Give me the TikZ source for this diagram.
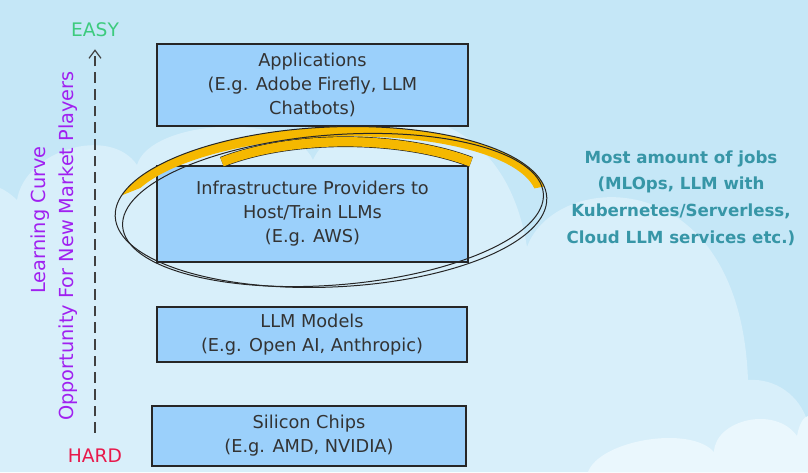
\documentclass[tikz,border=0pt]{standalone}
\usepackage{fontspec}
\setmainfont{DejaVu Sans}
\usetikzlibrary{arrows.meta}
\definecolor{skyblue}{HTML}{C5E7F7}
\definecolor{cloudblue}{HTML}{D8EFFA}
\definecolor{cloudpale}{HTML}{EAF7FD}
\definecolor{boxblue}{HTML}{9BD0FB}
\definecolor{boxtext}{HTML}{333333}
\definecolor{easygreen}{HTML}{3DCB7E}
\definecolor{hardred}{HTML}{E8194B}
\definecolor{curvepurple}{HTML}{A020F0}
\definecolor{jobteal}{HTML}{3796A7}
\definecolor{markyellow}{HTML}{F5B800}
\tikzset{
  layerbox/.style={draw=black!85, line width=0.9pt, fill=boxblue, text=boxtext,
    align=center, inner sep=0pt, font=\fontsize{13.3}{18}\selectfont},
  ringline/.style={draw=black!85, line width=0.75pt},
  marker/.style={draw=black!85, line width=0.5pt, double=markyellow, double distance=7pt},
  climb/.style={draw=black!75, line width=0.9pt, dash pattern=on 8pt off 4.5pt,
    -{Straight Barb[length=6pt,width=9pt]}, shorten <=12pt, shorten >=9pt},
  endword/.style={inner sep=0pt, font=\fontsize{14}{16}\selectfont},
  curvetext/.style={rotate=90, inner sep=0pt, text=curvepurple, font=\fontsize{14.5}{16}\selectfont},
  jobtext/.style={align=center, inner sep=0pt, text=jobteal, font=\bfseries\fontsize{12.5}{20}\selectfont}
}
\begin{document}
\begin{tikzpicture}[x=0.75pt,y=-0.75pt]%
% sky and clouds
\useasboundingbox (0,0) rectangle (808,472);
\fill[skyblue] (0,0) rectangle (808,472);
\fill[cloudblue] (0,188) .. controls (5,190) and (12,195) .. (17,200)
 .. controls (25,150) and (110,125) .. (137,165)
 .. controls (150,120) and (290,110) .. (313,160)
 .. controls (340,100) and (500,80) .. (527,247)
 .. controls (555,170) and (740,160) .. (748,380)
 .. controls (775,378) and (800,395) .. (808,423)
 -- (808,472) -- (0,472) -- cycle;
\fill[cloudpale] (588,472) .. controls (600,440) and (690,425) .. (714,452)
 .. controls (715,420) and (775,405) .. (797,436)
 .. controls (800,420) and (805,417) .. (808,416)
 -- (808,472) -- cycle;
% layers
\node[layerbox, minimum width=233.25pt, minimum height=61.5pt] (apps) at (312.5,85)
 {Applications\\(E.g. Adobe Firefly, LLM\\Chatbots)};
\node[layerbox, minimum width=233.25pt, minimum height=72pt] (infra) at (312.5,214)
 {Infrastructure Providers to\\Host/Train LLMs\\(E.g. AWS)};
\node[layerbox, minimum width=232.5pt, minimum height=41.25pt] (models) at (312,334.5)
 {LLM Models\\(E.g. Open AI, Anthropic)};
\node[layerbox, minimum width=235.5pt, minimum height=45pt] (chips) at (309,436)
 {Silicon Chips\\(E.g. AMD, NVIDIA)};
% highlight round the infrastructure layer
\begin{scope}[shift={(331,207)}, rotate=2.5]
\fill[markyellow] (165:162pt and 60pt) arc[start angle=165, end angle=8, x radius=162pt, y radius=60pt]
 -- (8:154.5pt and 52.5pt) arc[start angle=8, end angle=157, x radius=154.5pt, y radius=52.5pt] -- cycle;
\draw[ringline] (0,0) ellipse[x radius=162pt, y radius=60pt];
\end{scope}
\begin{scope}[shift={(333,210)}, rotate=4.5]
\draw[ringline] (0,0) ellipse[x radius=158.25pt, y radius=56.25pt];
\end{scope}
\coordinate (markL) at (222,162);
\coordinate (markR) at (471,162);
\draw[marker] (markL) .. controls (290,135) and (400,135) .. (markR);
% side labels
\node[jobtext] (jobs) at (681,198)
 {Most amount of jobs\\(MLOps, LLM with\\Kubernetes/Serverless,\\Cloud LLM services etc.)};
\node[endword, text=easygreen] (easy) at (95,30) {EASY};
\node[endword, text=hardred] (hard) at (95,456) {HARD};
\draw[climb] (hard) -- (easy);
\node[curvetext] (curve) at (40,220) {Learning Curve};
\node[curvetext] (chance) at (68,246) {Opportunity For New Market Players};
\end{tikzpicture}
\end{document}
